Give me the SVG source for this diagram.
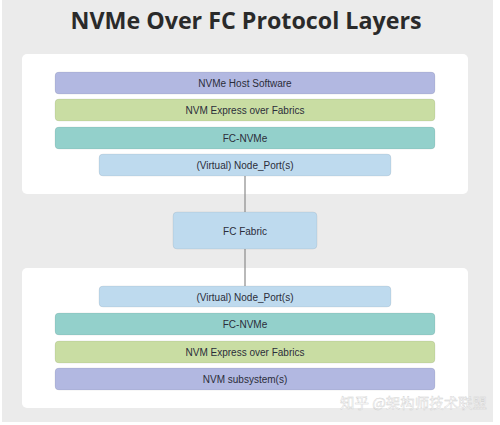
<svg xmlns="http://www.w3.org/2000/svg" width="500" height="425" viewBox="0 0 500 425">
<style>
.bg{fill:#ebebeb}
.panel{fill:#ffffff}
.bar{stroke:#00000010;stroke-width:1}
.host{fill:#b2b8e1}
.nvmf{fill:#c9dda3}
.fc{fill:#93d0cb}
.port{fill:#bedaee}
.lbl{font-family:"Liberation Sans","Noto Sans",Arial,sans-serif;font-size:10px;fill:#2b2d3a;text-anchor:middle;dominant-baseline:central}
.title{font-family:"Open Sans","Liberation Sans",Arial,sans-serif;font-weight:bold;font-size:23px;fill:#2a2a2a;text-anchor:middle}
.conn{stroke:#8a8a8a;stroke-width:1.2;fill:none}
.wm{font-family:"Noto Sans CJK SC","Liberation Sans",sans-serif;font-size:14px;fill:#ffffff;fill-opacity:0.85;stroke:#cfcfcf;stroke-width:0.4}
</style>
<rect x="0" y="0" width="500" height="425" fill="#ffffff"/>
<rect class="bg" x="2" y="0" width="491" height="422"/>
<text class="title" x="246" y="29" textLength="351" lengthAdjust="spacingAndGlyphs">NVMe Over FC Protocol Layers</text>
<rect class="panel" x="22" y="54" width="446" height="140" rx="5"/>
<rect class="panel" x="22" y="268" width="446" height="140" rx="5"/>
<g id="connectors">
<line class="conn" x1="245" y1="176" x2="245" y2="212"/>
<line class="conn" x1="245" y1="249" x2="245" y2="286"/>
</g>
<g id="host-sw"><rect class="bar host" x="55" y="72" width="380" height="22" rx="4"/><text class="lbl" x="245" y="83">NVMe Host Software</text></g>
<g id="host-nvmf"><rect class="bar nvmf" x="55" y="99" width="380" height="22" rx="4"/><text class="lbl" x="245" y="110">NVM Express over Fabrics</text></g>
<g id="host-fcnvme"><rect class="bar fc" x="55" y="127" width="380" height="22" rx="4"/><text class="lbl" x="245" y="138">FC-NVMe</text></g>
<g id="host-port"><rect class="bar port" x="99" y="154" width="292" height="22" rx="4"/><text class="lbl" x="245" y="165">(Virtual) Node_Port(s)</text></g>
<g id="fabric"><rect class="bar port" x="173" y="212" width="144" height="37" rx="4"/><text class="lbl" x="245" y="231">FC Fabric</text></g>
<g id="sub-port"><rect class="bar port" x="99" y="286" width="292" height="21" rx="4"/><text class="lbl" x="245" y="297">(Virtual) Node_Port(s)</text></g>
<g id="sub-fcnvme"><rect class="bar fc" x="55" y="313" width="380" height="22" rx="4"/><text class="lbl" x="245" y="324">FC-NVMe</text></g>
<g id="sub-nvmf"><rect class="bar nvmf" x="55" y="341" width="380" height="22" rx="4"/><text class="lbl" x="245" y="352">NVM Express over Fabrics</text></g>
<g id="sub-nvm"><rect class="bar host" x="55" y="368" width="380" height="22" rx="4"/><text class="lbl" x="245" y="379">NVM subsystem(s)</text></g>
<text class="wm" x="340" y="408" textLength="147" lengthAdjust="spacingAndGlyphs">知乎 @架构师技术联盟</text>
</svg>
